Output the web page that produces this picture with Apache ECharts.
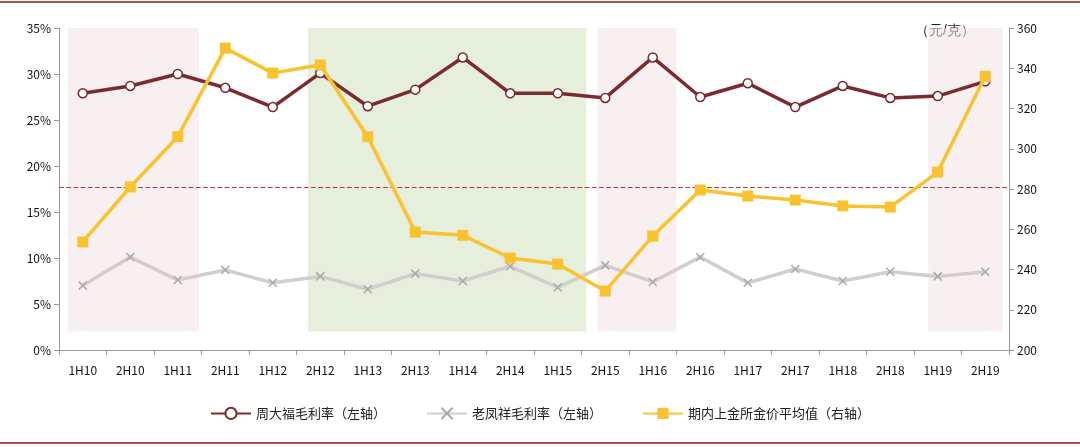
<!DOCTYPE html>
<html><head><meta charset="utf-8">
<script src="https://cdn.jsdelivr.net/npm/echarts@6/dist/echarts.min.js"></script>
<style>body{margin:0}#main{width:1080px;height:447px}</style>
</head><body><div id="main"></div>
<script>
var categories = ['1H10','2H10','1H11','2H11','1H12','2H12','1H13','2H13','1H14','2H14','1H15','2H15','1H16','2H16','1H17','2H17','1H18','2H18','1H19','2H19'];
var ctfMargin = [27.9,28.7,30.0,28.5,26.4,30.1,26.5,28.3,31.8,27.9,27.9,27.4,31.8,27.5,29.0,26.4,28.7,27.4,27.6,29.2];
var lfxMargin = [7.0,10.1,7.6,8.7,7.3,8.0,6.6,8.3,7.5,9.1,6.8,9.2,7.4,10.1,7.3,8.8,7.5,8.5,8.0,8.5];
var goldPrice = [253.7,281,306,350,337.6,341.6,306,258.6,257,245.7,242.7,229.3,256.6,279.5,276.5,274.5,271.6,271,288.4,336];
var avgLine = 17.7;
// shaded periods, in category-band units (0 = left edge of 1H10)
var bands = [[0.19, 2.95, 'pink'], [5.24, 11.1, 'green'], [11.33, 13.0, 'pink'], [18.3, 19.87, 'pink']];
var pink = 'rgba(242,226,230,0.55)', green = 'rgba(226,235,214,0.85)';

var myChart = echarts.init(document.getElementById('main'));
var option = {
    backgroundColor: '#fff',
    textStyle: {fontFamily: 'Noto Sans CJK SC'},
    grid: {left: 59, right: 71, top: 28, bottom: 97},
    graphic: [
        {type: 'line', shape: {x1: 0, y1: 2, x2: 1080, y2: 2}, style: {stroke: '#8b1a1a', lineWidth: 1.5}},
        {type: 'line', shape: {x1: 0, y1: 443, x2: 1080, y2: 443}, style: {stroke: '#8b1a1a', lineWidth: 1.5}},
        {type: 'text', left: 915, top: 24, style: {text: '（元/克）', fontSize: 14, fill: '#222', font: '14px Noto Sans CJK SC'}}
    ],
    legend: {
        bottom: 22, itemGap: 40, itemWidth: 40, textStyle: {fontSize: 13, color: '#222'},
        data: ['周大福毛利率（左轴）', '老凤祥毛利率（左轴）', '期内上金所金价平均值（右轴）']
    },
    xAxis: [{
        type: 'category', data: categories, boundaryGap: true,
        axisLine: {lineStyle: {color: '#999'}}, axisTick: {show: true, lineStyle: {color: '#999'}},
        axisLabel: {color: '#111', fontSize: 12, margin: 14}
    }, {
        type: 'value', min: 0, max: 20, show: false
    }],
    yAxis: [
        {type: 'value', min: 0, max: 35, interval: 5, splitLine: {show: false},
         axisLine: {show: true, lineStyle: {color: '#999'}}, axisTick: {show: true},
         axisLabel: {formatter: '{value}%', color: '#111', fontSize: 12}},
        {type: 'value', min: 200, max: 360, interval: 20, splitLine: {show: false},
         axisLine: {show: true, lineStyle: {color: '#999'}}, axisTick: {show: true},
         axisLabel: {color: '#111', fontSize: 12}}
    ],
    series: [
        {
            type: 'line', xAxisIndex: 1, data: [], silent: true, z: 1,
            markArea: {
                silent: true,
                data: bands.map(function (b) {
                    return [{xAxis: b[0], yAxis: 2, itemStyle: {color: b[2] === 'green' ? green : pink}}, {xAxis: b[1], yAxis: 35.8}];
                })
            },
            markLine: {
                silent: true, symbol: 'none', label: {show: false},
                lineStyle: {color: '#b03a3a', type: 'dashed', width: 1.2},
                data: [{yAxis: avgLine}]
            }
        },
        {
            name: '周大福毛利率（左轴）', type: 'line', data: ctfMargin, z: 4,
            symbol: 'circle', symbolSize: 9,
            lineStyle: {color: '#7b2a2f', width: 3.5},
            itemStyle: {color: '#fff', borderColor: '#7b2a2f', borderWidth: 1.5}
        },
        {
            name: '老凤祥毛利率（左轴）', type: 'line', data: lfxMargin, z: 3,
            symbol: 'path://M-1,-1L1,1M1,-1L-1,1', symbolSize: 8,
            lineStyle: {color: '#d0cfcb', width: 3.5},
            itemStyle: {color: '#bbb', borderColor: '#aaa', borderWidth: 1.5}
        },
        {
            name: '期内上金所金价平均值（右轴）', type: 'line', yAxisIndex: 1, data: goldPrice, z: 5,
            symbol: 'rect', symbolSize: 11,
            lineStyle: {color: '#f9c22e', width: 3.5},
            itemStyle: {color: '#f9c22e'}
        }
    ]
};
myChart.setOption(option);
</script></body></html>
